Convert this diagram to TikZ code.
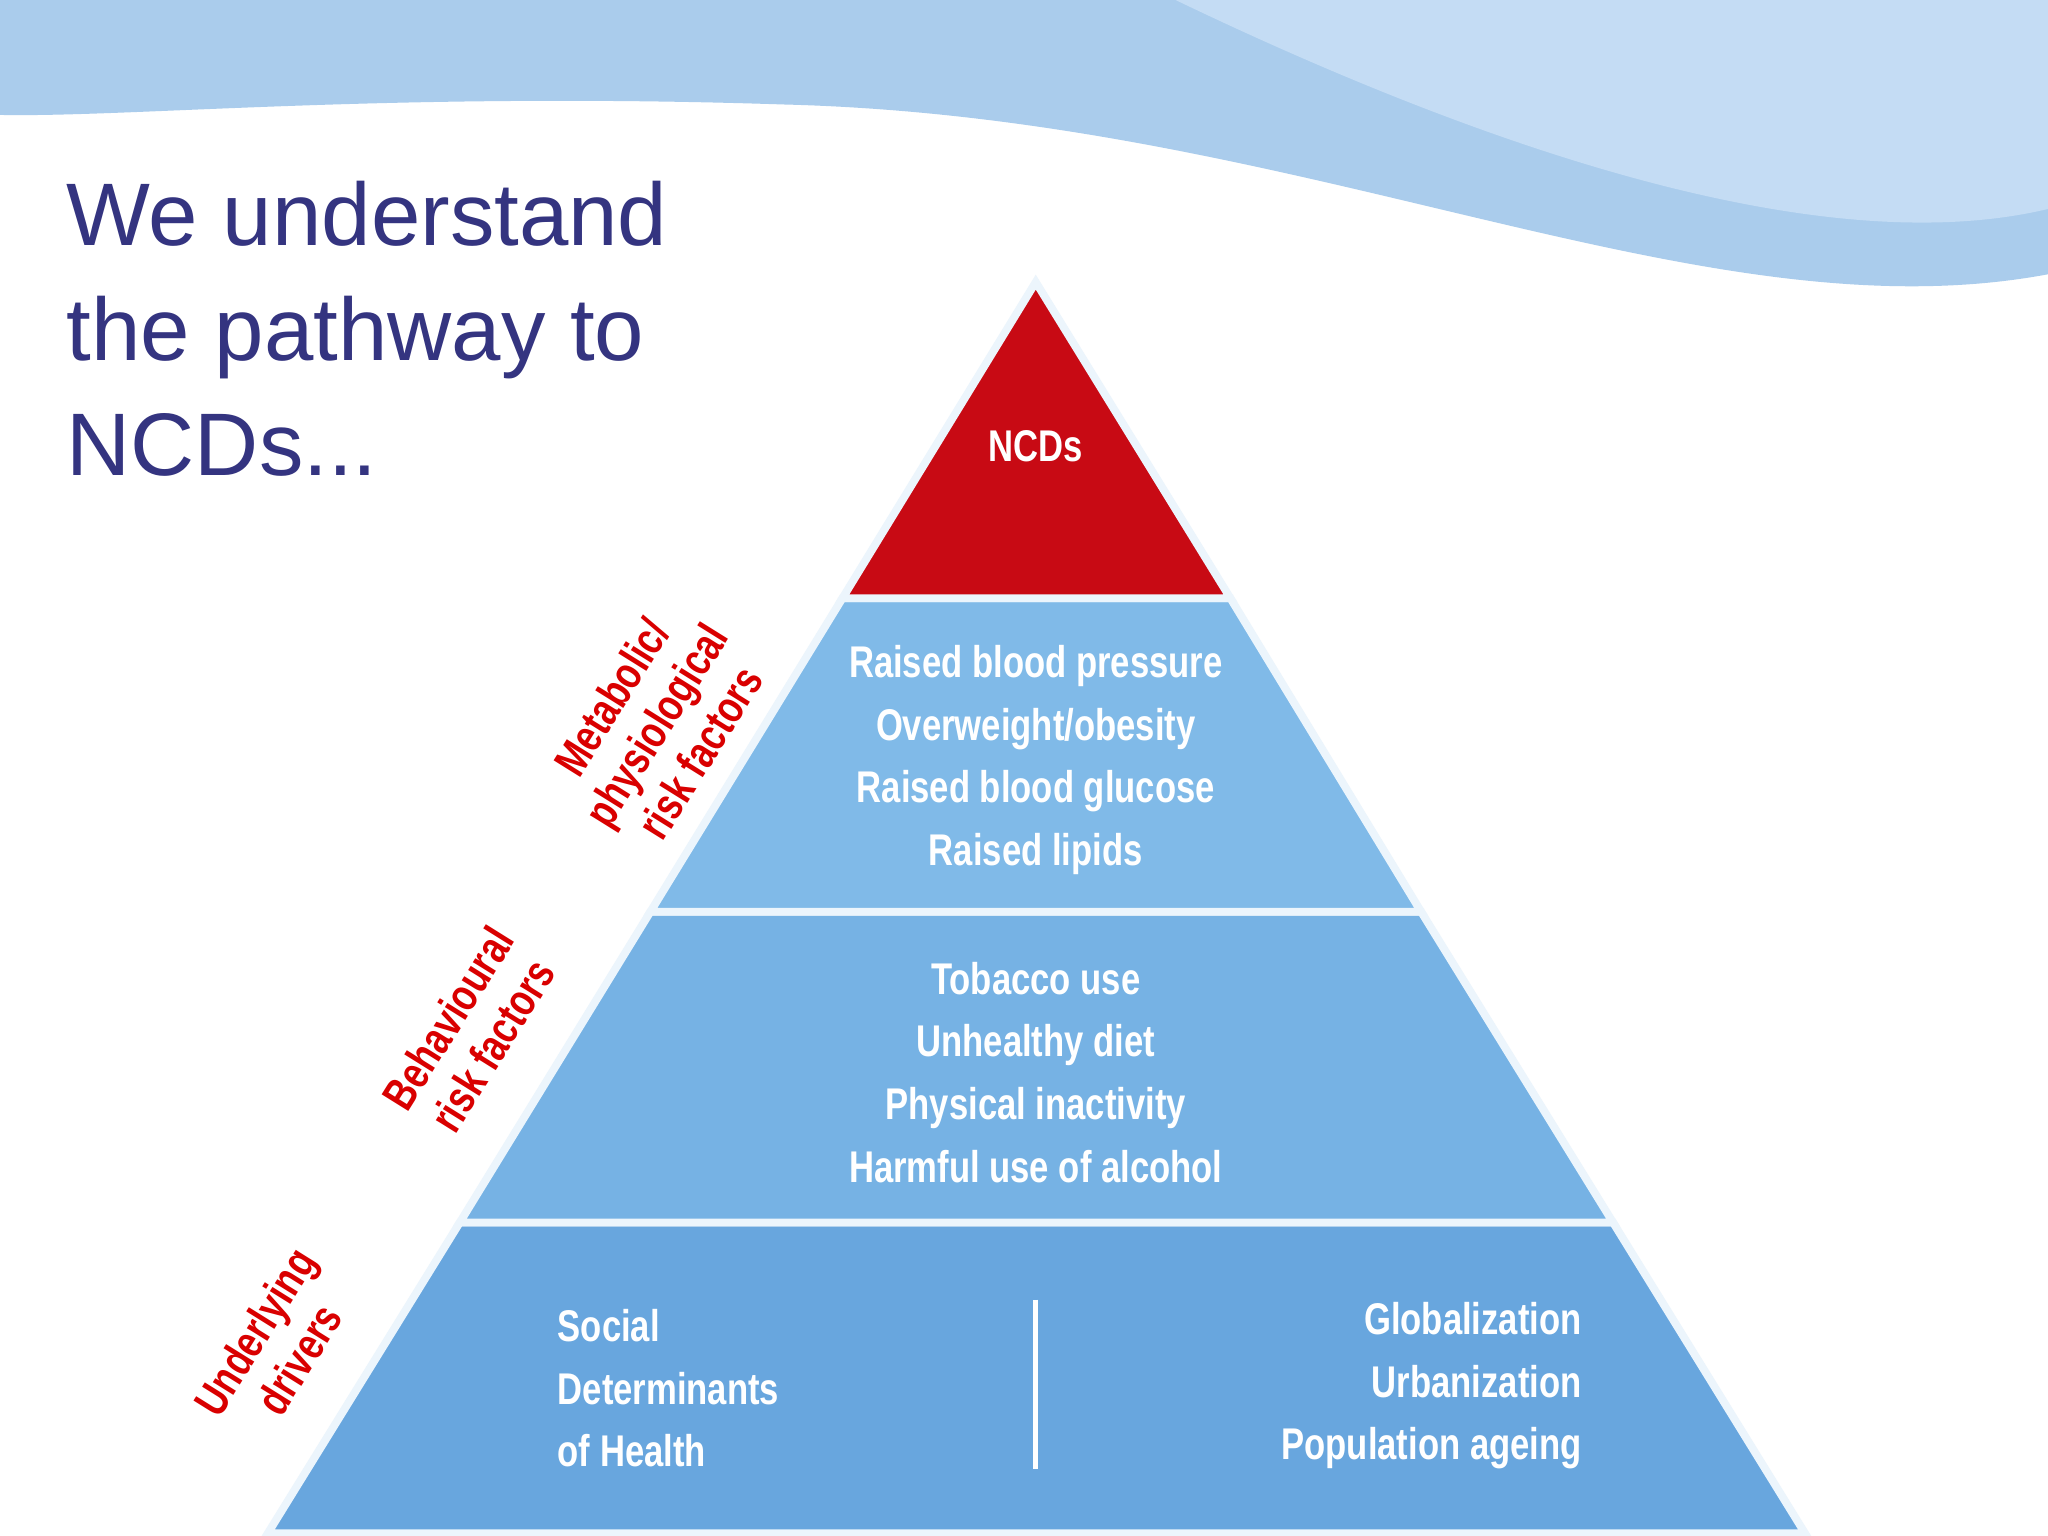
\documentclass[tikz,border=0pt]{standalone}
\usepackage{fontspec}
\setmainfont{Liberation Sans}
\newfontfamily\narrow[FakeStretch=0.78]{Liberation Sans}
\definecolor{lay1}{RGB}{128,186,232}
\definecolor{lay2}{RGB}{118,178,228}
\definecolor{lay3}{RGB}{104,166,222}
\definecolor{wave1}{RGB}{170,204,236}
\definecolor{wave2}{RGB}{196,220,244}
\definecolor{ttl}{RGB}{52,52,128}
\definecolor{ncd}{RGB}{200,10,20}
\begin{document}
\begin{tikzpicture}[x=0.5pt,y=-0.5pt,
  layer/.style={draw=white!85!lay1, line width=3pt},
  intext/.style={text=white, font=\narrow\bfseries\fontsize{17}{24}\selectfont, align=center},
  side/.style={text=red!85!black, font=\narrow\bfseries\fontsize{17.5}{20}\selectfont, align=center, rotate=58}]
\useasboundingbox (0,0) rectangle (1568,1176);
\fill[white] (0,0) rectangle (1568,1176);
\fill[wave1] (0,0) -- (1568,0) -- (1568,210) .. controls (1300,260) and (1000,90) .. (600,80) .. controls (300,70) and (100,90) .. (0,88) -- cycle;
\fill[wave2] (900,0) -- (1568,0) -- (1568,160) .. controls (1400,200) and (1150,120) .. (900,0);
\node[anchor=north west, text=ttl, font=\fontsize{34}{44}\selectfont, align=left] (title) at (44,132) {We understand\\the pathway to\\NCDs...};
\path[layer, fill=lay3] (205,1174) -- (1382,1174) -- (1235,936) -- (352,936) -- cycle;
\path[layer, fill=lay2] (352,936) -- (1235,936) -- (1088,698) -- (498,698) -- cycle;
\path[layer, fill=lay1] (498,698) -- (1088,698) -- (942,458) -- (645,458) -- cycle;
\path[fill=ncd, draw=white!85!lay1, line width=3pt] (645,458) -- (942,458) -- (793,216) -- cycle;
\node[intext] (ncd) at (793,342) {NCDs};
\node[intext] (meta) at (793,582) {Raised blood pressure\\Overweight/obesity\\Raised blood glucose\\Raised lipids};
\node[intext] (beh) at (793,821) {Tobacco use\\Unhealthy diet\\Physical inactivity\\Harmful use of alcohol};
\node[intext, align=left, anchor=west] (soc) at (420,1063) {Social\\Determinants\\of Health};
\node[intext, align=right, anchor=east] (glob) at (1218,1061) {Globalization\\Urbanization\\Population ageing};
\coordinate (d1) at (793,995); \coordinate (d2) at (793,1125);
\draw[white, line width=2pt] (d1) -- (d2);
\node[side] (s1) at (502,555) {Metabolic/\\physiological\\risk factors};
\node[side] (s2) at (360,790) {Behavioural\\risk factors};
\node[side] (s3) at (212,1030) {Underlying\\drivers};
\end{tikzpicture}
\end{document}
